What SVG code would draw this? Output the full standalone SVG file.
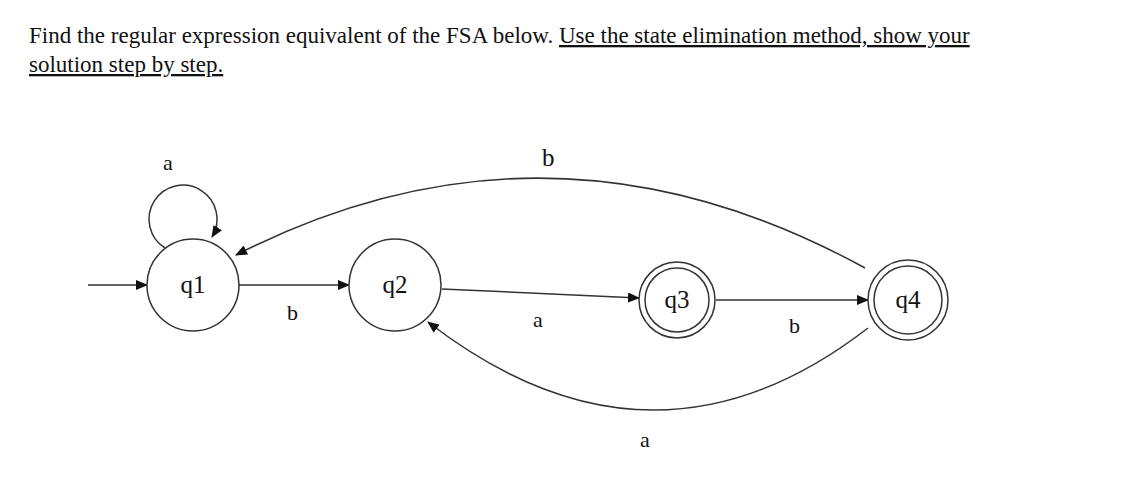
<svg xmlns="http://www.w3.org/2000/svg" width="1134" height="483" viewBox="0 0 1134 483">
<style>
text{font-family:"Liberation Serif",serif;fill:#111}
.t{font-size:23px}
.l{font-size:22px}
.n{font-size:25px}
.s{fill:#fff;stroke:#333;stroke-width:1.5}
.e{fill:none;stroke:#333;stroke-width:1.5}
</style>
<defs><marker id="ar" markerWidth="12" markerHeight="10" refX="11" refY="5" orient="auto" markerUnits="userSpaceOnUse"><path d="M0,0 L12,5 L0,10 Z" fill="#111"/></marker></defs>
<rect width="1134" height="483" fill="#fff"/>
<text class="t" x="29" y="43">Find the regular expression equivalent of the FSA below. <tspan text-decoration="underline">Use the state elimination method, show your</tspan></text>
<text class="t" x="29" y="72" text-decoration="underline">solution step by step.</text>
<g id="connectors">
<path class="e" d="M88,285 L147,285" marker-end="url(#ar)"/>
<path class="e" d="M165,248 A34,34 0 1 1 212,237" marker-end="url(#ar)"/>
<path class="e" d="M239,285 L349,285" marker-end="url(#ar)"/>
<path class="e" d="M442,289 L639,298" marker-end="url(#ar)"/>
<path class="e" d="M716,300 L868,300" marker-end="url(#ar)"/>
<path class="e" d="M865,268 Q550,95 236,255" marker-end="url(#ar)"/>
<path class="e" d="M868,328 Q652,495 428,322" marker-end="url(#ar)"/>
<text class="l" x="163" y="170">a</text>
<text class="n" x="542" y="166">b</text>
<text class="l" x="287" y="320">b</text>
<text class="l" x="533" y="327">a</text>
<text class="l" x="789" y="333">b</text>
<text class="l" x="640" y="447">a</text>
</g>
<g id="q1"><circle class="s" cx="193" cy="285" r="46"/><text class="n" x="193" y="293" text-anchor="middle">q1</text></g>
<g id="q2"><circle class="s" cx="395" cy="285" r="46"/><text class="n" x="395" y="293" text-anchor="middle">q2</text></g>
<g id="q3"><circle class="s" cx="677" cy="300" r="38"/><circle class="e" cx="677" cy="300" r="32"/><text class="n" x="677" y="308" text-anchor="middle">q3</text></g>
<g id="q4"><circle class="s" cx="908" cy="300" r="40"/><circle class="e" cx="908" cy="300" r="34"/><text class="n" x="908" y="308" text-anchor="middle">q4</text></g>
</svg>
